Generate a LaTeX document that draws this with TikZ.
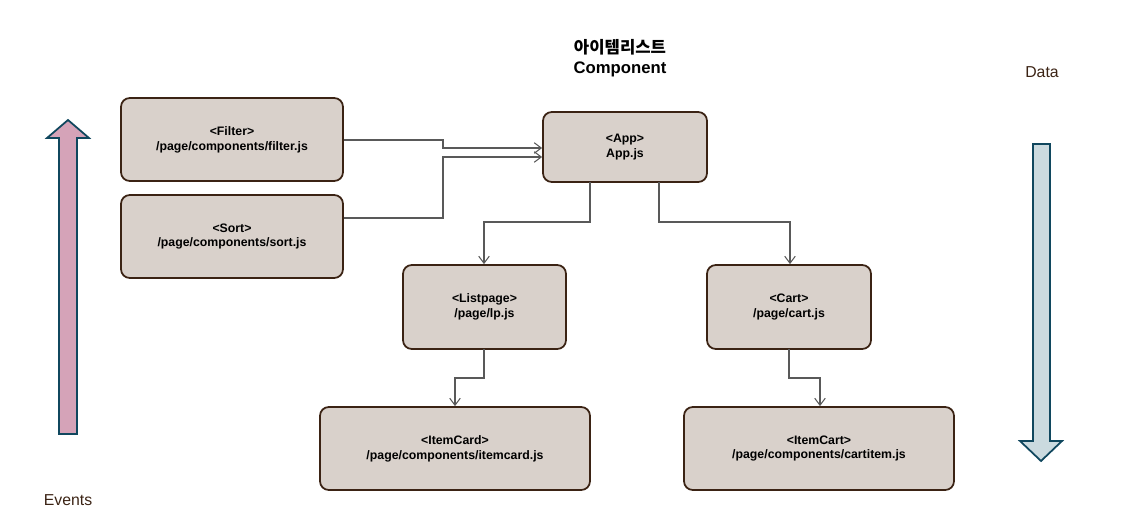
\documentclass[tikz,border=0pt]{standalone}
\usepackage{fontspec}
\setmainfont{Liberation Sans}
\newfontfamily\krfont{Noto Sans CJK KR}
\usetikzlibrary{arrows.meta}
\definecolor{boxfill}{HTML}{D9D1CB}
\definecolor{boxline}{HTML}{3B2314}
\definecolor{arrline}{HTML}{10475E}
\definecolor{pinkfill}{RGB}{213,163,184}
\definecolor{bluefill}{RGB}{203,218,223}
\tikzset{
  box/.style={draw=boxline,fill=boxfill,rounded corners=5pt,line width=1pt,align=center,font=\fontsize{7}{8.5}\selectfont\bfseries,inner sep=0pt},
  conn/.style={draw=black!65,line width=0.6pt,-{Straight Barb[length=4pt,width=6pt]}},
}
\begin{document}
\begin{tikzpicture}[x=0.02cm,y=-0.02cm]
\useasboundingbox (0,0) rectangle (1147,531);
\node[box,minimum width=222*0.02cm,minimum height=83*0.02cm] (filter) at (232,139.5) {<Filter>\\/page/components/filter.js};
\node[box,minimum width=222*0.02cm,minimum height=83*0.02cm] (sort) at (232,236.5) {<Sort>\\/page/components/sort.js};
\node[box,minimum width=164*0.02cm,minimum height=70*0.02cm] (app) at (625,147) {<App>\\App.js};
\node[box,minimum width=163*0.02cm,minimum height=84*0.02cm] (lp) at (484.5,307) {<Listpage>\\/page/lp.js};
\node[box,minimum width=164*0.02cm,minimum height=84*0.02cm] (cart) at (789,307) {<Cart>\\/page/cart.js};
\node[box,minimum width=270*0.02cm,minimum height=83*0.02cm] (card) at (455,448.5) {<ItemCard>\\/page/components/itemcard.js};
\node[box,minimum width=270*0.02cm,minimum height=83*0.02cm] (icart) at (819,448.5) {<ItemCart>\\/page/components/cartitem.js};
\node[font=\krfont\bfseries\fontsize{9.5}{11}\selectfont] (t1) at (620,47) {아이템리스트};
\node[font=\bfseries\fontsize{9.5}{11}\selectfont] (t2) at (620,69) {Component};
\node[text=boxline,font=\fontsize{9}{11}\selectfont] (data) at (1042,72) {Data};
\node[text=boxline,font=\fontsize{9}{11}\selectfont] (ev) at (68,500) {Events};
\draw[conn] (filter.east |- 0,140) -- (443,140) -- (443,148) -- (app.west |- 0,148);
\draw[conn] (sort.east |- 0,218) -- (443,218) -- (443,157) -- (app.west |- 0,157);
\draw[conn] (590,182) -- (590,222) -- (484,222) -- (lp.north -| 484,0);
\draw[conn] (659,182) -- (659,222) -- (790,222) -- (cart.north -| 790,0);
\draw[conn] (484,349) -- (484,378) -- (455,378) -- (card.north -| 455,0);
\draw[conn] (789,349) -- (789,378) -- (820,378) -- (icart.north -| 820,0);
\draw[draw=arrline,fill=pinkfill,line width=1pt]
  (59,434) -- (59,138) -- (47,138) -- (68,120) -- (89,138) -- (77,138) -- (77,434) -- cycle;
\draw[draw=arrline,fill=bluefill,line width=1pt]
  (1033,144) -- (1033,441) -- (1020,441) -- (1041,461) -- (1062,441) -- (1050,441) -- (1050,144) -- cycle;
\end{tikzpicture}
\end{document}
